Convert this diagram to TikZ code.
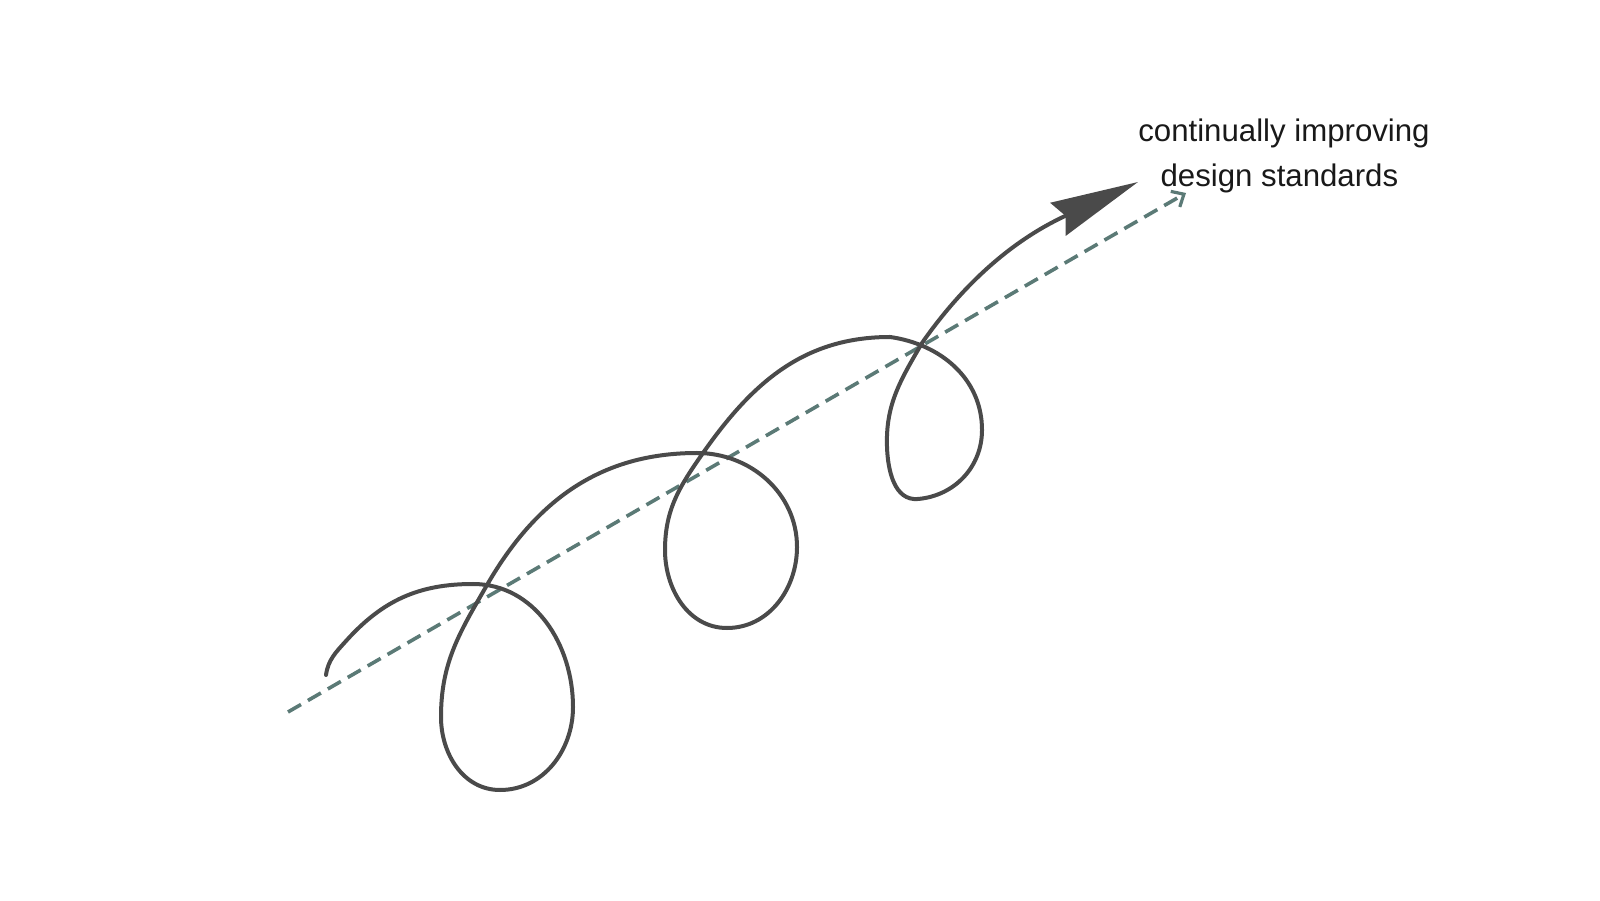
\documentclass[tikz,border=0pt]{standalone}
\usepackage{fontspec}
\setmainfont{Liberation Sans}
\usepackage{xcolor}
\usetikzlibrary{arrows.meta}
\definecolor{spiralgray}{HTML}{4A4A4A}
\definecolor{trendteal}{HTML}{5B7A76}
\tikzset{
    spiral-line/.style = {draw=spiralgray, line width=2pt, line cap=round, -{Stealth[length=44pt, width=18pt, inset=4pt]}},
    trend-line/.style = {draw=trendteal, line width=1.8pt, dash pattern=on 7.5pt off 4pt, -{Straight Barb[length=5pt, width=9pt, line width=1.6pt]}},
    goal-label/.style = {align=center, font=\fontsize{15.6}{22.5}\selectfont, text=black!90, inner sep=0pt},
}
\begin{document}
\begin{tikzpicture}[x=0.5pt, y=0.5pt]
\useasboundingbox (0,0) rectangle (1600,900);
% dashed trend
\coordinate (trend-start) at (288,188);
\coordinate (trend-end) at (1186,707);
\draw[trend-line] (trend-start) -- (trend-end);
% loop points
\coordinate (s) at (326,225);
\coordinate (h) at (346,259);
\coordinate (t1) at (473,316);
\coordinate (r1) at (573,193);
\coordinate (b1) at (500,110);
\coordinate (l1) at (441,183);
\coordinate (c1) at (487,315);
\coordinate (t2) at (697,447);
\coordinate (r2) at (797,353);
\coordinate (b2) at (727,272);
\coordinate (l2) at (665,350);
\coordinate (c2) at (703,447);
\coordinate (t3) at (890,563);
\coordinate (r3) at (982,470);
\coordinate (b3) at (918,401);
\coordinate (l3) at (887,453);
\coordinate (c3) at (922,557);
\coordinate (e) at (1138,718);
\draw[spiral-line] (s) to[out=82, in=228] (h) to[out=48, in=180] (t1) to[out=0, in=90] (r1)
    to[out=270, in=0] (b1) to[out=180, in=270] (l1) to[out=90, in=240] (c1)
    to[out=60, in=180] (t2) to[out=0, in=90] (r2) to[out=270, in=0] (b2)
    to[out=180, in=270] (l2) to[out=90, in=235] (c2) to[out=55, in=180] (t3)
    to[out=-8, in=90] (r3) to[out=270, in=5] (b3) to[out=185, in=272] (l3)
    to[out=92, in=240] (c3) to[out=55, in=205] (e);
\node[goal-label] (goal) at (1284,744) {continually improving\\design standards\hspace*{4.6pt}};
\end{tikzpicture}
\end{document}
